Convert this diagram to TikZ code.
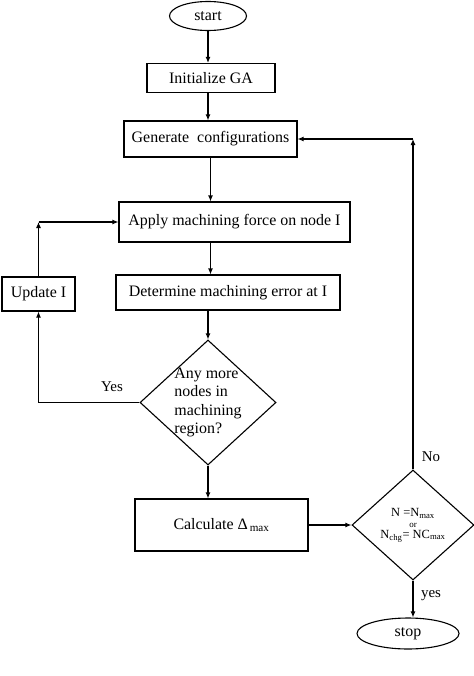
\documentclass[tikz,border=0pt]{standalone}
\usepackage{fontspec}
\setmainfont{Liberation Serif}
\usetikzlibrary{arrows.meta,shapes.geometric,calc}

\begin{document}
\begin{tikzpicture}[x=1bp,y=-1bp,
  box/.style={rectangle, draw, line width=1.1bp, inner sep=0pt, align=center, font=\fontsize{16}{18}\selectfont},
  term/.style={ellipse, draw, line width=1.1bp, inner sep=0pt, font=\fontsize{16}{18}\selectfont},
  test/.style={diamond, draw, line width=1.1bp, inner sep=-20bp},
  lbl/.style={font=\fontsize{15}{17}\selectfont, inner sep=0pt},
  arr/.style={-{Latex[length=6bp,width=5bp]}, line width=1.1bp}
]
\useasboundingbox (0,0) rectangle (474,676);

% Start and set-up
\node[term, minimum width=77bp, minimum height=29bp] (start) at (208,16) {start};
\node[box, minimum width=128bp, minimum height=29bp] (init) at (211,78) {Initialize GA};
\node[box, minimum width=173bp, minimum height=36bp] (gen) at (210.5,139) {Generate \ configurations};
\draw[arr] (start.south) -- (start.south |- init.north);
\draw[arr] (start.south |- init.south) -- (start.south |- gen.north);

% Inner loop over the nodes
\node[box, minimum width=231bp, minimum height=40bp] (apply) at (234.5,222) {Apply machining force on node I};
\node[box, minimum width=224bp, minimum height=35bp] (err) at (228,292.5) {Determine machining error at I};
\node[box, minimum width=73bp, minimum height=34bp] (upd) at (38.5,294) {Update I};
\node[test, minimum width=136bp, minimum height=125bp, align=left, font=\fontsize{16}{18.3}\selectfont] (more) at (208,402.5) {Any more\\nodes in\\machining\\region?};
\draw[arr] (gen.south) -- (gen.south |- apply.north);
\draw[arr] (gen.south |- apply.south) -- (gen.south |- err.north);
\draw[arr] (more.north |- err.south) -- (more.north);
\draw[arr] (more.west) -| (upd.south);
\draw[arr] (upd.north) -- (upd.north |- apply.west);
\draw[arr] (upd.north |- apply.west) -- (apply.west);
\node[lbl] (yes1) at (112,387) {Yes};

% Outer loop and stop
\node[box, minimum width=173bp, minimum height=52bp] (calc) at (221.5,525) {Calculate Δ\textsubscript{\,max}};
\node[test, minimum width=122bp, minimum height=110bp, align=center, font=\fontsize{12.5}{11}\selectfont] (stopq) at (413,525) {N =N\textsubscript{max}\\{\fontsize{9}{9}\selectfont or}\\N\textsubscript{chg}= NC\textsubscript{max}};
\node[term, minimum width=102bp, minimum height=31bp] (stop) at (408,633.5) {stop};
\draw[arr] (more.south) -- (more.south |- calc.north);
\draw[arr] (calc.east) -- (stopq.west);
\draw[arr] (stopq.south) -- (stopq.south |- stop.north);
\draw[arr] (stopq.north) -- (stopq.north |- gen.east);
\draw[arr] (stopq.north |- gen.east) -- (gen.east);
\node[lbl] (no) at (431,457) {No};
\node[lbl] (yes2) at (431,596) {yes};

\end{tikzpicture}
\end{document}
